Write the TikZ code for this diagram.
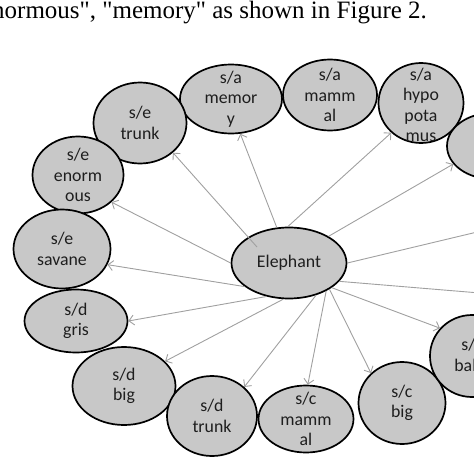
\documentclass[tikz,border=0pt]{standalone}
\usepackage{fontspec}
\setmainfont{Carlito}
\newfontfamily\hdrfont{Liberation Serif}
\usetikzlibrary{shapes.geometric,arrows.meta}
\definecolor{ellfill}{RGB}{200,200,200}
\definecolor{arrgray}{RGB}{160,160,160}
\definecolor{txtgray}{RGB}{30,30,30}
\begin{document}
\begin{tikzpicture}[x=1pt,y=-1pt,
  ell/.style={ellipse, draw=black, line width=1.7pt, fill=ellfill, inner sep=0pt},
  lbl/.style={inner sep=0pt, align=center, text=txtgray, font=\fontsize{17.8}{20.5}\selectfont},
  arr/.style={draw=arrgray, line width=0.9pt, -{Straight Barb[length=5pt,width=10pt]}},
  hdr/.style={inner sep=0pt, anchor=base west, font=\hdrfont\fontsize{25}{30}\selectfont, text=black}
]
\useasboundingbox (0,0) rectangle (474,474);
\clip (0,0) rectangle (474,474);

\node[hdr] (title) at (-8,18.5) {normous", "memory" as shown in Figure 2.};

% top row (s/a)
\node[ell, minimum width=102pt, minimum height=69pt, label={[lbl]center:{s/a\\memor\\y}}] (amem) at (231,99) {};
\node[ell, minimum width=94pt, minimum height=71pt, label={[lbl]center:{s/a\\mamm\\al}}] (amam) at (330,95) {};
\node[ell, minimum width=85pt, minimum height=80pt, label={[lbl,yshift=-2pt]center:{s/a\\hypo\\pota\\mus}}] (ahyp) at (421,103) {};
\node[ell, minimum width=90pt, minimum height=66pt] (aright) at (492,146) {};

% left side (s/e)
\node[ell, minimum width=93pt, minimum height=81pt, label={[lbl]center:{s/e\\trunk}}] (etrunk) at (140,123) {};
\node[ell, minimum width=91pt, minimum height=77pt, label={[lbl]center:{s/e\\enorm\\ous}}] (eenor) at (78,175) {};
\node[ell, minimum width=97pt, minimum height=79pt, label={[lbl]center:{s/e\\savane}}] (esav) at (62,249) {};

% bottom left (s/d)
\node[ell, minimum width=103pt, minimum height=63pt, label={[lbl]center:{s/d\\gris}}] (dgris) at (76,321) {};
\node[ell, minimum width=103pt, minimum height=78pt, label={[lbl]center:{s/d\\big}}] (dbig) at (124,386) {};
\node[ell, minimum width=90pt, minimum height=80pt, label={[lbl]center:{s/d\\trunk}}] (dtrunk) at (212,416) {};

% bottom right (s/c)
\node[ell, minimum width=95pt, minimum height=67pt, label={[lbl]center:{s/c\\mamm\\al}}] (cmam) at (306,419) {};
\node[ell, minimum width=87pt, minimum height=82pt, label={[lbl]center:{s/c\\big}}] (cbig) at (402,403) {};
\node[ell, minimum width=84pt, minimum height=82pt, label={[lbl]center:{s/c\\baby}}] (cbaby) at (472,356) {};

% centre
\node[ell, minimum width=115pt, minimum height=71pt, label={[lbl]center:{Elephant}}] (el) at (289,263) {};

% targets beyond the right edge
\coordinate (offA) at (540,217);
\coordinate (offB) at (540,298);

% connectors
\draw[arr] (el.109) -- (amem.-75);
\draw[arr] (el.92) -- (ahyp.-135);
\draw[arr] (el.34) -- (aright.205);
\draw[arr] (el.0) -- (offA);
\draw[arr] (el.-20) -- (offB);
\draw[arr] (el.-30) -- (cbaby.139);
\draw[arr] (el.-33) -- (cbig.136);
\draw[arr] (el.-37) -- (cmam.87);
\draw[arr] (el.-50) -- (dtrunk.42);
\draw[arr] (el.-99) -- (dbig.31);
\draw[arr] (el.-124) -- (dgris.0);
\draw[arr] (el.-152) -- (esav.-19);
\draw[arr] (el.180) -- (eenor.-39);
\draw[arr] ([shift={(-32,-16)}]el.center) -- (etrunk.-42);
\end{tikzpicture}
\end{document}
